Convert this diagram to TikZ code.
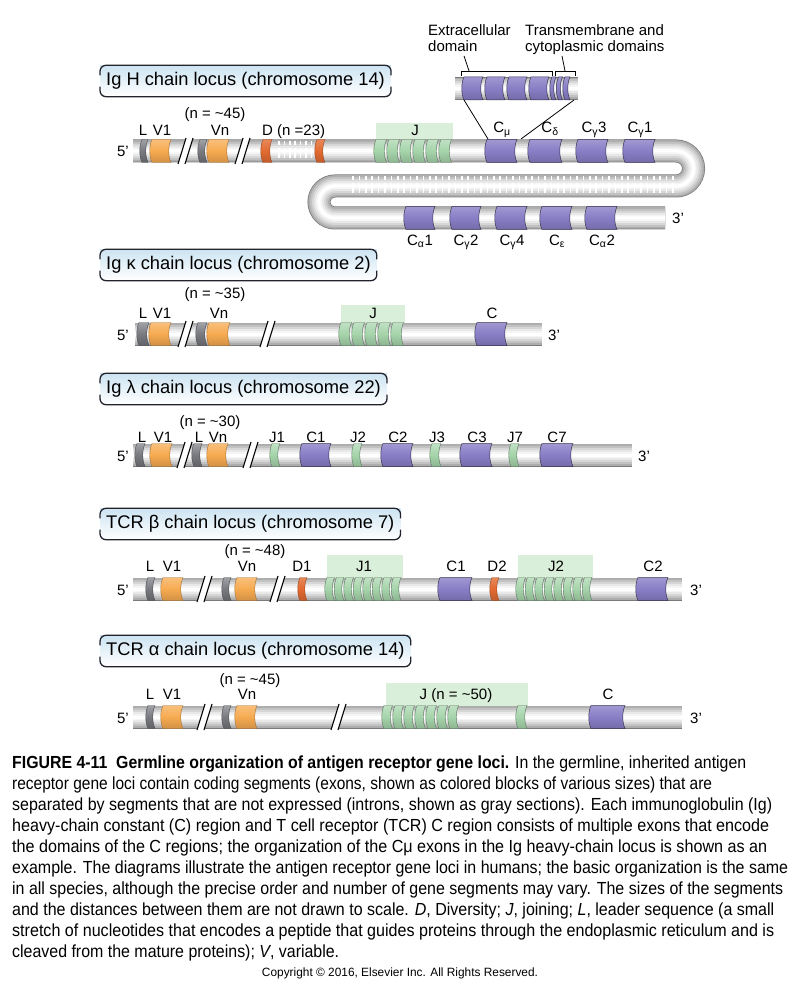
\documentclass[tikz,border=0pt]{standalone}
\usepackage{fontspec}
\setmainfont{Liberation Sans}
\usepackage{graphicx}
\definecolor{vor}{RGB}{246,170,80}
\definecolor{lgr}{RGB}{120,122,128}
\definecolor{dor}{RGB}{226,106,48}
\definecolor{jgr}{RGB}{165,212,170}
\definecolor{cpu}{RGB}{136,126,198}
\definecolor{jbx}{RGB}{218,239,218}
\definecolor{tbl}{RGB}{205,228,242}
\definecolor{tline}{RGB}{35,35,45}
\newcommand\tubedraw[1]{%
  \draw[line width=23pt, color=black!52] #1;
  \draw[line width=21.5pt, color=black!32] #1;
  \draw[line width=18pt, color=black!24] #1;
  \draw[line width=14pt, color=black!16] #1;
  \draw[line width=10pt, color=black!9] #1;
  \draw[line width=6pt, color=black!4] #1;
  \draw[line width=3pt, color=white] #1;}
\newcommand\exon[4]{\path[#4] (#1,#3-11.5) -- (#2,#3-11.5) .. controls (#2-3,#3-5) and (#2-3,#3+5) .. (#2,#3+11.5) -- (#1,#3+11.5) .. controls (#1-3,#3+5) and (#1-3,#3-5) .. (#1,#3-11.5) -- cycle;}
\newcommand\jstripes[5]{\foreach \k in {0,...,#4} {\exon{#1+\k*#2}{#1+\k*#2+#3}{#5}{jex}}}
\newcommand\brk[2]{%
  \fill[white] (#1,#2+13) -- (#1+8,#2-13) -- (#1+15,#2-13) -- (#1+7,#2+13) -- cycle;
  \draw[brkline] (#1,#2+13) -- (#1+8,#2-13);
  \draw[brkline] (#1+7,#2+13) -- (#1+15,#2-13);}
\newcommand\ticks[4]{\foreach \k in {0,...,#3} {\draw[tickline] (#1+\k*#2,#4-10) -- (#1+\k*#2,#4-6); \draw[tickline] (#1+\k*#2,#4-3) -- (#1+\k*#2,#4+7);}}
\newcommand\titlelines[1]{%
  \draw[tline, line width=1.3pt, rounded corners=6pt] ([yshift=-10pt]#1.north west) -- (#1.north west) -- (#1.north east) -- ([yshift=-10pt]#1.north east);
  \draw[tline, line width=1.3pt, rounded corners=6pt] ([yshift=10pt]#1.south west) -- (#1.south west) -- (#1.south east) -- ([yshift=10pt]#1.south east);}
\newcommand\Cs[2]{C\textsubscript{#1}#2}
\begin{document}
\begin{tikzpicture}[x=1pt,y=-1pt,
  vex/.style={draw=vor!65!black, line width=.4pt, top color=vor!75!white, bottom color=vor!85!black, middle color=vor},
  lex/.style={draw=lgr!60!black, line width=.4pt, top color=lgr!70!white, bottom color=lgr!80!black, middle color=lgr},
  dex/.style={draw=dor!65!black, line width=.4pt, top color=dor!80!white, bottom color=dor!85!black, middle color=dor},
  jex/.style={draw=jgr!55!black, line width=.4pt, top color=jgr!70!white, bottom color=jgr!85!black, middle color=jgr},
  cex/.style={draw=cpu!40!black, line width=.5pt, top color=cpu!80!white, bottom color=cpu!85!black, middle color=cpu},
  brkline/.style={black, line width=1.1pt},
  tickline/.style={white, line width=1.6pt},
  lab/.style={font=\fontsize{15}{16}\selectfont, inner sep=0pt, anchor=base},
  titlebox/.style={font=\fontsize{18.3}{20}\selectfont, inner xsep=6pt, inner ysep=0pt, minimum height=31pt, text height=13pt, text depth=4pt, top color=tbl, bottom color=white, anchor=west},
  jboxs/.style={fill=jbx},
  capstyle/.style={anchor=base west, inner sep=0pt, font=\fontsize{17.5}{20}\selectfont},
  leader/.style={black, line width=0.8pt}]
\useasboundingbox (0,0) rectangle (800,992);
\fill[white] (0,0) rectangle (800,992);

% ================= Ig H =================
\node[titlebox] (tH) at (100,81) {Ig H chain locus (chromosome 14)};
\titlelines{tH}
% inset
\node[lab, anchor=base west] (ext1) at (428,36) {Extracellular};
\node[lab, anchor=base west] (ext2) at (428,52) {domain};
\node[lab, anchor=base west] (tm1) at (525,36) {Transmembrane and};
\node[lab, anchor=base west] (tm2) at (525,52) {cytoplasmic domains};
\draw[leader] (461,76) -- (461,71) -- (552,71) -- (552,76);
\draw[leader] (555,76) -- (555,71) -- (575,71) -- (575,76);
\coordinate (exL) at (464,56); \coordinate (exB) at (469,71);
\coordinate (tmL) at (562,56); \coordinate (tmB) at (565,71);
\draw[leader] (exL) -- (exB);
\draw[leader] (tmL) -- (tmB);
\tubedraw{(455,88.5) -- (578,88.5)}
\exon{464}{483}{88.5}{cex}
\exon{487}{505}{88.5}{cex}
\exon{509}{527}{88.5}{cex}
\exon{531}{549}{88.5}{cex}
\exon{552}{556}{88.5}{cex}
\exon{558.5}{562.5}{88.5}{cex}
\exon{565}{570}{88.5}{cex}
\coordinate (inL) at (464,100); \coordinate (inR) at (574,100);
\coordinate (cmL) at (488,139); \coordinate (cmR) at (521,139);
\draw[leader] (inL) -- (cmL);
\draw[leader] (inR) -- (cmR);
% snake
\tubedraw{(133,151) -- (676,151) .. controls (685.67,151) and (693.5,158.83) .. (693.5,168.5) .. controls (693.5,178.17) and (685.67,186) .. (676,186) -- (335,186) .. controls (326.16,186) and (319,193.16) .. (319,202) .. controls (319,210.84) and (326.16,218) .. (335,218) -- (665,218)}
\fill[jboxs] (376,123) rectangle (453,139.5);
\node[lab] (hJ) at (415,136) {J};
\exon{142}{148}{151}{lex}
\exon{152}{171}{151}{vex}
\exon{200}{207}{151}{lex}
\exon{209}{229}{151}{vex}
\exon{263}{272}{151}{dex}
\ticks{279}{5.4}{6}{151}
\exon{317}{325}{151}{dex}
\jstripes{376}{13}{10.5}{5}{151}
\exon{487}{517}{151}{cex}
\exon{530}{562}{151}{cex}
\exon{578}{608}{151}{cex}
\exon{625}{655}{151}{cex}
\ticks{353}{6.4}{50}{186}
\exon{406}{435}{218}{cex}
\exon{452}{481}{218}{cex}
\exon{497}{527}{218}{cex}
\exon{542}{572}{218}{cex}
\exon{587}{617}{218}{cex}
\brk{178}{151}
\brk{235}{151}
\node[lab, anchor=base east] (h5) at (129,157) {5'};
\node[lab, anchor=base west] (h3) at (672,224) {3'};
\node[lab] (hL) at (143,136) {L};
\node[lab] (hV1) at (162,136) {V1};
\node[lab] (hn) at (215,119) {(n = \textasciitilde45)};
\node[lab] (hVn) at (220,136) {Vn};
\node[lab, anchor=base west] (hD) at (262,136) {D (n =23)};
\node[lab] (hCmu) at (502,133) {\Cs{μ}{}};
\node[lab] (hCd) at (550,133) {\Cs{δ}{}};
\node[lab] (hCg3) at (594,133) {\Cs{γ}{3}};
\node[lab] (hCg1) at (640,133) {\Cs{γ}{1}};
\node[lab] (hCa1) at (420,245) {\Cs{α}{1}};
\node[lab] (hCg2) at (466,245) {\Cs{γ}{2}};
\node[lab] (hCg4) at (512,245) {\Cs{γ}{4}};
\node[lab] (hCe) at (557,245) {\Cs{ε}{}};
\node[lab] (hCa2) at (602,245) {\Cs{α}{2}};

% ================= Ig kappa =================
\node[titlebox] (tK) at (100,265) {Ig κ chain locus (chromosome 2)};
\titlelines{tK}
\tubedraw{(135,334) -- (542,334)}
\fill[jboxs] (341,305) rectangle (405,322.5);
\node[lab] (kJ) at (373,318) {J};
\exon{139}{149}{334}{lex}
\exon{151}{171}{334}{vex}
\exon{198}{207}{334}{lex}
\exon{209}{230}{334}{vex}
\jstripes{341}{13}{10.5}{4}{334}
\exon{477}{507}{334}{cex}
\brk{178}{334}
\brk{260}{334}
\node[lab, anchor=base east] (k5) at (129,340) {5'};
\node[lab, anchor=base west] (k3) at (548,340) {3'};
\node[lab] (kL) at (143,318) {L};
\node[lab] (kV1) at (162,318) {V1};
\node[lab] (kn) at (215,298) {(n = \textasciitilde35)};
\node[lab] (kVn) at (219,318) {Vn};
\node[lab] (kC) at (492,318) {C};

% ================= Ig lambda =================
\node[titlebox] (tL) at (100,389) {Ig λ chain locus (chromosome 22)};
\titlelines{tL}
\tubedraw{(133,455) -- (632,455)}
\exon{137}{145}{455}{lex}
\exon{152}{172}{455}{vex}
\exon{194}{202}{455}{lex}
\exon{209}{228}{455}{vex}
\exon{272}{280}{455}{jex}
\exon{302}{331}{455}{cex}
\exon{354}{362}{455}{jex}
\exon{383}{413}{455}{cex}
\exon{432}{441}{455}{jex}
\exon{462}{492}{455}{cex}
\exon{511}{519}{455}{jex}
\exon{542}{573}{455}{cex}
\brk{177}{455}
\brk{243}{455}
\node[lab, anchor=base east] (l5) at (129,461) {5'};
\node[lab, anchor=base west] (l3) at (638,461) {3'};
\node[lab] (lL1) at (142,442) {L};
\node[lab] (lV1) at (163,442) {V1};
\node[lab] (ln) at (210,426) {(n = \textasciitilde30)};
\node[lab] (lL2) at (199,442) {L};
\node[lab] (lVn) at (218,442) {Vn};
\node[lab] (lJ1) at (277,442) {J1};
\node[lab] (lC1) at (316,442) {C1};
\node[lab] (lJ2) at (358,442) {J2};
\node[lab] (lC2) at (398,442) {C2};
\node[lab] (lJ3) at (437,442) {J3};
\node[lab] (lC3) at (477,442) {C3};
\node[lab] (lJ7) at (515,442) {J7};
\node[lab] (lC7) at (557,442) {C7};

% ================= TCR beta =================
\node[titlebox] (tB) at (100,524) {TCR β chain locus (chromosome 7)};
\titlelines{tB}
\tubedraw{(133,589) -- (682,589)}
\fill[jboxs] (327,555) rectangle (403,577.5);
\fill[jboxs] (518,555) rectangle (593,577.5);
\exon{148}{155}{589}{lex}
\exon{163}{183}{589}{vex}
\exon{224}{231}{589}{lex}
\exon{237}{257}{589}{vex}
\exon{300}{307}{589}{dex}
\jstripes{327}{9.5}{7.5}{7}{589}
\exon{440}{472}{589}{cex}
\exon{492}{499}{589}{dex}
\jstripes{518}{9.5}{7.5}{7}{589}
\exon{638}{668}{589}{cex}
\brk{197}{589}
\brk{270}{589}
\node[lab, anchor=base east] (b5) at (129,595) {5'};
\node[lab, anchor=base west] (b3) at (690,595) {3'};
\node[lab] (bL) at (150,571) {L};
\node[lab] (bV1) at (172,571) {V1};
\node[lab] (bn) at (255,555) {(n = \textasciitilde48)};
\node[lab] (bVn) at (247,571) {Vn};
\node[lab] (bD1) at (302,571) {D1};
\node[lab] (bJ1) at (364,571) {J1};
\node[lab] (bC1) at (456,571) {C1};
\node[lab] (bD2) at (497,571) {D2};
\node[lab] (bJ2) at (556,571) {J2};
\node[lab] (bC2) at (653,571) {C2};

% ================= TCR alpha =================
\node[titlebox] (tA) at (100,651) {TCR α chain locus (chromosome 14)};
\titlelines{tA}
\tubedraw{(133,717) -- (682,717)}
\fill[jboxs] (386,683) rectangle (528,705.5);
\exon{148}{155}{717}{lex}
\exon{163}{183}{717}{vex}
\exon{224}{231}{717}{lex}
\exon{237}{257}{717}{vex}
\jstripes{384}{11}{8.5}{6}{717}
\exon{518}{527}{717}{jex}
\exon{591}{625}{717}{cex}
\brk{197}{717}
\brk{331}{717}
\node[lab, anchor=base east] (a5) at (129,723) {5'};
\node[lab, anchor=base west] (a3) at (690,723) {3'};
\node[lab] (aL) at (150,699) {L};
\node[lab] (aV1) at (172,699) {V1};
\node[lab] (an) at (250,684) {(n = \textasciitilde45)};
\node[lab] (aVn) at (247,699) {Vn};
\node[lab] (aJ) at (456,699) {J (n = \textasciitilde50)};
\node[lab] (aC) at (608,699) {C};

% ================= caption =================
\node[capstyle] (c1) at (12,768) {\resizebox{734pt}{\height}{\textbf{FIGURE 4-11\ \ Germline organization of antigen receptor gene loci.} In the germline, inherited antigen}};
\node[capstyle] (c2) at (12,789) {\resizebox{700pt}{\height}{receptor gene loci contain coding segments (exons, shown as colored blocks of various sizes) that are}};
\node[capstyle] (c3) at (12,810) {\resizebox{760pt}{\height}{separated by segments that are not expressed (introns, shown as gray sections). Each immunoglobulin (Ig)}};
\node[capstyle] (c4) at (12,831) {\resizebox{757pt}{\height}{heavy-chain constant (C) region and T cell receptor (TCR) C region consists of multiple exons that encode}};
\node[capstyle] (c5) at (12,852) {\resizebox{755pt}{\height}{the domains of the C regions; the organization of the Cμ exons in the Ig heavy-chain locus is shown as an}};
\node[capstyle] (c6) at (12,873) {\resizebox{776pt}{\height}{example. The diagrams illustrate the antigen receptor gene loci in humans; the basic organization is the same}};
\node[capstyle] (c7) at (12,894) {\resizebox{771pt}{\height}{in all species, although the precise order and number of gene segments may vary. The sizes of the segments}};
\node[capstyle] (c8) at (12,915) {\resizebox{762pt}{\height}{and the distances between them are not drawn to scale. \textit{D}, Diversity; \textit{J}, joining; \textit{L}, leader sequence (a small}};
\node[capstyle] (c9) at (12,936) {\resizebox{762pt}{\height}{stretch of nucleotides that encodes a peptide that guides proteins through the endoplasmic reticulum and is}};
\node[capstyle] (c10) at (12,957) {\resizebox{327pt}{\height}{cleaved from the mature proteins); \textit{V}, variable.}};
\node[anchor=base, inner sep=0pt, font=\fontsize{12}{14}\selectfont] (copy) at (400,976) {\resizebox{276pt}{\height}{Copyright © 2016, Elsevier Inc. All Rights Reserved.}};
\end{tikzpicture}
\end{document}
